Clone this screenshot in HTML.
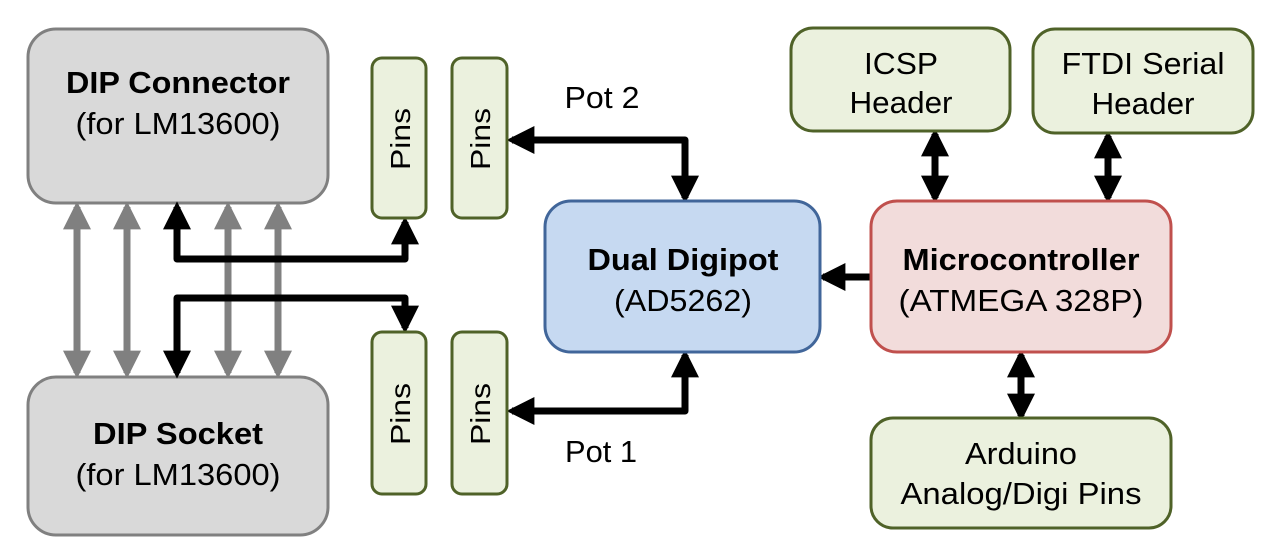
<!DOCTYPE html>
<html><head><meta charset="utf-8"><style>
html,body{margin:0;padding:0;background:#fff;}
svg{display:block;}
text{font-family:"Liberation Sans",Arial,sans-serif;}
</style></head><body>
<svg width="1279" height="554" viewBox="0 0 1279 554" xmlns="http://www.w3.org/2000/svg">
<defs>
<marker id="ab" markerWidth="4" markerHeight="4" refX="3.2" refY="2" orient="auto-start-reverse" markerUnits="strokeWidth" viewBox="0 0 4 4"><path d="M0,0 L4,2 L0,4 z" fill="#000"/></marker>
<marker id="ag" markerWidth="4" markerHeight="4" refX="3.2" refY="2" orient="auto-start-reverse" markerUnits="strokeWidth" viewBox="0 0 4 4"><path d="M0,0 L4,2 L0,4 z" fill="#808080"/></marker>
</defs>
<rect x="28" y="29" width="300" height="174" rx="28" fill="#d9d9d9" stroke="#808080" stroke-width="3"/>
<rect x="28" y="377" width="300" height="158" rx="28" fill="#d9d9d9" stroke="#808080" stroke-width="3"/>
<text x="178" y="93" font-size="31" font-weight="bold" text-anchor="middle" textLength="224" lengthAdjust="spacingAndGlyphs">DIP Connector</text>
<text x="178" y="134" font-size="31" text-anchor="middle" textLength="205" lengthAdjust="spacingAndGlyphs">(for LM13600)</text>
<text x="178" y="444" font-size="31" font-weight="bold" text-anchor="middle" textLength="170" lengthAdjust="spacingAndGlyphs">DIP Socket</text>
<text x="178" y="485" font-size="31" text-anchor="middle" textLength="205" lengthAdjust="spacingAndGlyphs">(for LM13600)</text>
<g stroke="#808080" stroke-width="7" marker-start="url(#ag)" marker-end="url(#ag)">
<line x1="77" y1="207" x2="77" y2="373"/>
<line x1="127" y1="207" x2="127" y2="373"/>
<line x1="228" y1="207" x2="228" y2="373"/>
<line x1="278" y1="207" x2="278" y2="373"/>
</g>
<g fill="none" stroke="#000" stroke-width="7" stroke-linejoin="round">
<path d="M177,207 L177,259 L405,259 L405,222" marker-start="url(#ab)" marker-end="url(#ab)"/>
<path d="M405,328 L405,298 L177,298 L177,373" marker-start="url(#ab)" marker-end="url(#ab)"/>
<path d="M685,198 L685,140 L512,140" marker-start="url(#ab)" marker-end="url(#ab)"/>
<path d="M685,355 L685,411 L512,411" marker-start="url(#ab)" marker-end="url(#ab)"/>
<path d="M871,277 L823,277" marker-end="url(#ab)"/>
<path d="M935,134 L935,198" marker-start="url(#ab)" marker-end="url(#ab)"/>
<path d="M1108,136 L1108,198" marker-start="url(#ab)" marker-end="url(#ab)"/>
<path d="M1021,355 L1021,416" marker-start="url(#ab)" marker-end="url(#ab)"/>
</g>
<g fill="#ebf1de" stroke="#4f6228" stroke-width="3">
<rect x="372" y="58" width="54" height="160" rx="10"/>
<rect x="452" y="58" width="55" height="160" rx="10"/>
<rect x="372" y="332" width="54" height="162" rx="10"/>
<rect x="452" y="332" width="55" height="162" rx="10"/>
<rect x="791" y="28" width="219" height="103" rx="22"/>
<rect x="1033" y="29" width="220" height="104" rx="22"/>
<rect x="871" y="418" width="300" height="110" rx="22"/>
</g>
<g font-size="28" text-anchor="middle">
<text transform="translate(410,139) rotate(-90)" textLength="62" lengthAdjust="spacingAndGlyphs">Pins</text>
<text transform="translate(490,139) rotate(-90)" textLength="62" lengthAdjust="spacingAndGlyphs">Pins</text>
<text transform="translate(410,414) rotate(-90)" textLength="62" lengthAdjust="spacingAndGlyphs">Pins</text>
<text transform="translate(490,414) rotate(-90)" textLength="62" lengthAdjust="spacingAndGlyphs">Pins</text>
</g>
<rect x="545" y="201" width="275" height="151" rx="26" fill="#c6d9f1" stroke="#41669a" stroke-width="3"/>
<rect x="871" y="201" width="300" height="151" rx="26" fill="#f2dcdb" stroke="#c0504d" stroke-width="3"/>
<text x="683" y="270" font-size="31" font-weight="bold" text-anchor="middle" textLength="191" lengthAdjust="spacingAndGlyphs">Dual Digipot</text>
<text x="683" y="311" font-size="31" text-anchor="middle" textLength="138" lengthAdjust="spacingAndGlyphs">(AD5262)</text>
<text x="1021" y="270" font-size="31" font-weight="bold" text-anchor="middle" textLength="237" lengthAdjust="spacingAndGlyphs">Microcontroller</text>
<text x="1021" y="311" font-size="31" text-anchor="middle" textLength="245" lengthAdjust="spacingAndGlyphs">(ATMEGA 328P)</text>
<g font-size="31" text-anchor="middle">
<text x="901" y="74" textLength="74" lengthAdjust="spacingAndGlyphs">ICSP</text>
<text x="901" y="113" textLength="103" lengthAdjust="spacingAndGlyphs">Header</text>
<text x="1143" y="74" textLength="163" lengthAdjust="spacingAndGlyphs">FTDI Serial</text>
<text x="1143" y="114" textLength="103" lengthAdjust="spacingAndGlyphs">Header</text>
<text x="1021" y="464" textLength="112" lengthAdjust="spacingAndGlyphs">Arduino</text>
<text x="1021" y="504" textLength="241" lengthAdjust="spacingAndGlyphs">Analog/Digi  Pins</text>
<text x="602" y="108" textLength="75" lengthAdjust="spacingAndGlyphs">Pot 2</text>
<text x="601" y="462" textLength="72" lengthAdjust="spacingAndGlyphs">Pot 1</text>
</g>
</svg>
</body></html>
